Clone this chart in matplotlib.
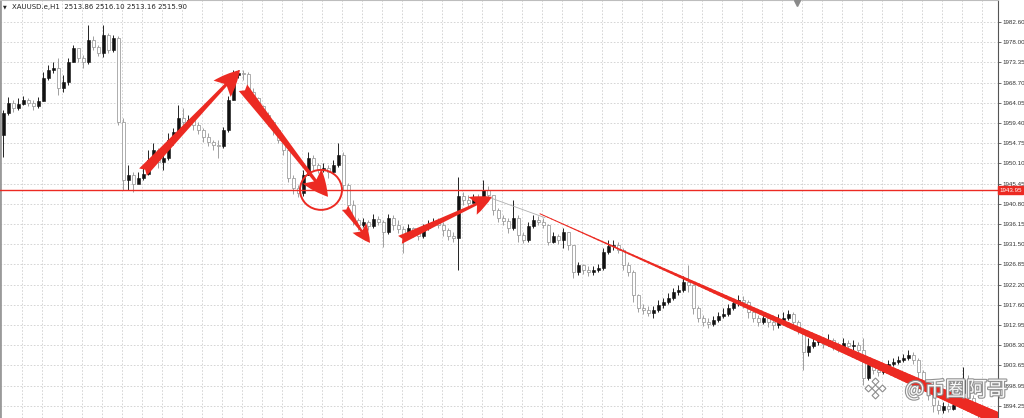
import numpy as np
import matplotlib
matplotlib.use("Agg")
import matplotlib.pyplot as plt
from matplotlib.patches import Ellipse, FancyArrowPatch
from matplotlib.collections import LineCollection
from matplotlib.lines import Line2D
import matplotlib.patheffects as pe

plt.rcParams["font.family"] = ["DejaVu Sans"]

# -----------------------------
# data (XAUUSD H1)
# -----------------------------
first_open = 1956.7
closes = [
    1961.7, 1964.0, 1962.9, 1963.8, 1964.7, 1964.0, 1963.3, 1964.5, 1969.8, 1971.6,
    1972.1, 1967.5, 1968.8, 1973.4, 1976.7, 1974.4, 1973.4, 1978.5, 1976.9, 1975.5,
    1979.6, 1976.2, 1979.0, 1959.6, 1946.3, 1947.5, 1945.4, 1946.8, 1947.7, 1950.9,
    1953.2, 1950.4, 1951.4, 1955.5, 1957.3, 1960.6, 1959.6, 1960.1, 1959.0, 1957.8,
    1956.2, 1955.0, 1954.4, 1954.1, 1957.8, 1964.7, 1970.5, 1970.9, 1970.7, 1966.5,
    1965.2, 1963.3, 1961.3, 1959.6, 1957.8, 1955.5, 1953.2, 1946.8, 1944.5, 1943.3,
    1947.5, 1951.4, 1949.8, 1948.6, 1949.1, 1948.1, 1949.8, 1952.1, 1945.2, 1940.6,
    1937.1, 1936.0, 1936.6, 1935.7, 1937.3, 1936.6, 1934.3, 1937.6, 1936.0, 1935.0,
    1933.9, 1935.3, 1934.1, 1933.4, 1935.3, 1936.2, 1936.6, 1936.0, 1934.8, 1933.4,
    1933.0, 1942.6, 1941.7, 1941.0, 1942.2, 1941.9, 1944.0, 1942.9, 1939.4, 1937.6,
    1936.9, 1935.3, 1937.6, 1933.7, 1932.5, 1935.7, 1937.1, 1936.6, 1936.0, 1932.0,
    1933.4, 1932.5, 1934.3, 1931.4, 1925.1, 1926.8, 1925.6, 1925.1, 1925.6, 1926.1,
    1929.7, 1931.1, 1931.4, 1930.2, 1926.8, 1925.1, 1919.9, 1916.9, 1916.4, 1915.7,
    1916.4, 1917.6, 1918.2, 1919.2, 1920.5, 1921.0, 1922.8, 1922.2, 1916.9, 1914.6,
    1913.6, 1913.2, 1914.1, 1915.0, 1915.5, 1916.9, 1918.0, 1918.7, 1918.2, 1915.9,
    1914.6, 1913.6, 1914.6, 1913.6, 1913.0, 1914.1, 1914.6, 1915.5, 1913.6, 1911.8,
    1906.7, 1908.1, 1909.0, 1909.5, 1908.6, 1909.5, 1908.4, 1907.7, 1908.8, 1908.1,
    1908.4, 1907.2, 1900.8, 1903.8, 1902.6, 1902.1, 1902.6, 1904.0, 1904.4, 1904.9,
    1905.4, 1906.1, 1904.9, 1902.1, 1899.2, 1896.9, 1894.6, 1893.4, 1894.3, 1893.6,
    1894.6, 1897.3, 1900.3, 1896.2, 1894.6, 1892.9,
]
highs = [
    1962.4, 1965.4, 1964.7, 1965.2, 1965.6, 1965.2, 1964.7, 1965.4, 1971.1, 1972.8,
    1973.4, 1974.4, 1970.5, 1974.4, 1977.4, 1976.2, 1975.1, 1981.9, 1979.4, 1977.4,
    1981.9, 1980.1, 1979.6, 1979.4, 1960.6, 1949.8, 1948.1, 1948.1, 1949.1, 1953.2,
    1954.8, 1953.7, 1952.7, 1957.1, 1958.3, 1963.6, 1962.9, 1961.3, 1960.8, 1959.6,
    1958.3, 1957.1, 1955.5, 1955.5, 1958.5, 1965.6, 1971.6, 1971.6, 1971.6, 1971.1,
    1967.5, 1965.4, 1963.6, 1961.9, 1960.1, 1957.8, 1955.5, 1953.2, 1947.5, 1945.2,
    1948.6, 1952.7, 1952.1, 1950.2, 1950.2, 1949.8, 1950.9, 1954.8, 1952.7, 1945.6,
    1941.7, 1937.6, 1937.6, 1937.1, 1938.5, 1938.0, 1937.1, 1938.5, 1938.3, 1937.1,
    1935.7, 1936.2, 1935.5, 1935.0, 1936.2, 1937.1, 1937.6, 1937.6, 1936.6, 1935.3,
    1934.3, 1947.0, 1943.5, 1942.9, 1943.1, 1943.1, 1946.3, 1944.9, 1942.9, 1939.9,
    1938.3, 1937.6, 1941.7, 1938.3, 1934.3, 1936.6, 1938.3, 1938.0, 1937.6, 1936.2,
    1934.3, 1933.9, 1935.3, 1934.3, 1931.4, 1927.4, 1927.0, 1926.5, 1926.5, 1927.0,
    1930.7, 1932.5, 1932.5, 1932.0, 1930.7, 1927.4, 1925.6, 1920.1, 1917.8, 1917.3,
    1917.3, 1918.7, 1919.2, 1920.3, 1921.5, 1922.2, 1924.2, 1926.8, 1922.4, 1917.3,
    1915.3, 1914.6, 1915.0, 1915.9, 1916.9, 1917.8, 1918.7, 1919.9, 1919.6, 1918.7,
    1916.4, 1915.3, 1915.5, 1915.0, 1914.6, 1915.5, 1915.9, 1916.4, 1915.9, 1914.1,
    1912.3, 1910.0, 1910.4, 1910.4, 1910.0, 1910.9, 1910.0, 1909.0, 1910.0, 1909.5,
    1909.5, 1909.0, 1910.0, 1904.9, 1904.4, 1903.5, 1903.8, 1904.9, 1905.4, 1905.8,
    1906.3, 1907.2, 1906.7, 1905.4, 1902.6, 1899.6, 1897.3, 1895.7, 1895.2, 1895.0,
    1895.7, 1898.5, 1903.3, 1901.5, 1896.9, 1894.8,
]
lows = [
    1951.6, 1961.3, 1961.9, 1962.4, 1963.6, 1963.3, 1962.4, 1962.9, 1964.5, 1969.3,
    1970.9, 1965.9, 1966.5, 1968.2, 1973.4, 1973.4, 1972.1, 1973.0, 1976.2, 1974.8,
    1974.6, 1975.5, 1975.7, 1959.0, 1944.0, 1944.0, 1943.5, 1945.6, 1946.3, 1947.5,
    1950.4, 1949.1, 1948.6, 1950.9, 1954.4, 1956.7, 1958.5, 1958.5, 1957.8, 1956.9,
    1955.0, 1954.1, 1953.2, 1951.4, 1953.7, 1957.3, 1964.7, 1969.8, 1969.3, 1965.4,
    1964.2, 1962.4, 1960.6, 1958.7, 1956.7, 1954.8, 1952.1, 1945.8, 1943.1, 1942.4,
    1942.6, 1947.5, 1948.6, 1947.9, 1948.1, 1946.8, 1947.7, 1949.3, 1944.0, 1938.9,
    1936.0, 1934.8, 1935.5, 1934.8, 1935.3, 1936.0, 1930.9, 1933.9, 1934.8, 1934.1,
    1929.5, 1933.4, 1933.2, 1932.5, 1933.0, 1934.8, 1935.7, 1935.3, 1933.4, 1932.5,
    1932.0, 1925.6, 1940.6, 1940.1, 1941.2, 1941.2, 1941.7, 1942.2, 1938.3, 1936.6,
    1936.0, 1934.1, 1934.8, 1932.0, 1931.8, 1932.0, 1935.3, 1936.0, 1935.3, 1931.4,
    1931.8, 1931.6, 1930.7, 1930.2, 1923.8, 1924.5, 1924.7, 1924.2, 1924.5, 1925.1,
    1925.6, 1929.3, 1930.2, 1929.5, 1925.6, 1924.2, 1918.2, 1915.9, 1915.5, 1915.0,
    1914.6, 1915.9, 1916.9, 1917.8, 1918.7, 1919.9, 1920.5, 1920.5, 1915.5, 1913.6,
    1912.7, 1912.3, 1912.7, 1913.6, 1914.6, 1915.0, 1916.4, 1917.3, 1916.9, 1914.6,
    1913.6, 1912.7, 1913.2, 1912.5, 1911.8, 1912.3, 1913.6, 1914.1, 1912.3, 1910.9,
    1902.6, 1905.8, 1907.7, 1908.4, 1907.7, 1908.1, 1907.2, 1906.7, 1907.2, 1907.2,
    1907.2, 1906.1, 1899.2, 1900.3, 1901.7, 1901.2, 1901.7, 1903.1, 1903.5, 1904.0,
    1904.4, 1904.9, 1904.0, 1900.8, 1898.0, 1895.7, 1892.9, 1892.5, 1892.7, 1892.9,
    1893.4, 1894.6, 1896.9, 1895.2, 1893.6, 1891.6,
]

tick_labels = [
    "1982.60", "1978.00", "1973.35", "1968.70", "1964.05", "1959.40", "1954.75",
    "1950.10", "1945.45", "1940.80", "1936.15", "1931.50", "1926.85", "1922.20",
    "1917.60", "1912.95", "1908.30", "1903.65", "1898.95", "1894.25",
]
current_price = 1943.95
title_text = "XAUUSD.e,H1  2513.86 2516.10 2513.16 2515.90"
watermark = "@币圈阿哥"

# 화살표: (시작 (봉, 가격), 끝 (봉, 가격), 크기)
arrows = [
    ((28.0, 1948.1), (47.4, 1971.6), 17),
    ((48.0, 1967.5), (65.0, 1942.4), 17),
    ((68.4, 1939.9), (73.4, 1931.8), 12),
    ((79.4, 1932.5), (97.8, 1942.4), 14),
]
circle_center = (63.6, 1944.0)
trend_grey = ((97.4, 1942.2), (108.4, 1937.6))
trend_red = ((107.4, 1938.5), (199.6, 1891.0))

RED = "#ec2a22"
LABEL_FONT = ["Liberation Sans", "DejaVu Sans"]

# -----------------------------
# figure
# -----------------------------
fig = plt.figure(figsize=(10.24, 4.18), dpi=100)
fig.patch.set_facecolor("white")
ax = fig.add_axes([0.0, 0.0, 998 / 1024, 1.0])

opens = [first_open] + closes[:-1]
x = np.arange(len(closes))
o = np.array(opens)
c = np.array(closes)
h = np.array(highs)
l = np.array(lows)
up = c >= o

# wicks
ax.vlines(x[up], l[up], h[up], color="#222222", lw=0.7, zorder=2)
ax.vlines(x[~up], l[~up], h[~up], color="#a0a0a0", lw=0.7, zorder=2)

# bodies
body_lo = np.minimum(o, c)
body_h = np.maximum(np.abs(c - o), 0.15)
ax.bar(x[up], body_h[up], bottom=body_lo[up], width=0.6,
       color="#111111", edgecolor="#111111", lw=0.4, zorder=3)
ax.bar(x[~up], body_h[~up], bottom=body_lo[~up], width=0.6,
       color="white", edgecolor="#a0a0a0", lw=0.6, zorder=3)

# current price line
ax.axhline(current_price, color=RED, lw=1.0, zorder=4)
ax.text(1.001, current_price, f"{current_price:.2f}", transform=ax.get_yaxis_transform(),
        ha="left", va="center", fontsize=4.5, color="white", clip_on=False,
        family=LABEL_FONT,
        bbox=dict(boxstyle="square,pad=0.2", fc=RED, ec=RED), zorder=8)

# circle
ax.add_patch(Ellipse(circle_center, width=8.4, height=9.2, fill=False,
                     edgecolor=RED, lw=1.4, zorder=5))

# arrows
for start, end, ms in arrows:
    ax.add_patch(FancyArrowPatch(
        start, end,
        arrowstyle="fancy,head_length=1.1,head_width=1.0,tail_width=0.45",
        mutation_scale=ms, color=RED, lw=0, shrinkA=0, shrinkB=0, zorder=6))

# trend lines
ax.plot([trend_grey[0][0], trend_grey[1][0]], [trend_grey[0][1], trend_grey[1][1]],
        color="#b0b0b0", lw=0.6, zorder=4)
t = np.linspace(0, 1, 120)
tx = trend_red[0][0] + (trend_red[1][0] - trend_red[0][0]) * t
ty = trend_red[0][1] + (trend_red[1][1] - trend_red[0][1]) * t
pts = np.column_stack([tx, ty]).reshape(-1, 1, 2)
segs = np.concatenate([pts[:-1], pts[1:]], axis=1)
widths = (1 + 12 * t[:-1] ** 1.6) * 0.72
ax.add_collection(LineCollection(segs, linewidths=widths, colors=RED,
                                 capstyle="round", zorder=6))

# -----------------------------
# axes style
# -----------------------------
ax.set_xlim(-0.6, 199.0)
ax.set_ylim(1891.5, 1987.7)

ticks = [float(s) for s in tick_labels]
ax.yaxis.tick_right()
ax.set_yticks(ticks)
ax.set_yticklabels(tick_labels, family=LABEL_FONT)
ax.tick_params(axis="y", labelsize=4.5, colors="#333333", length=2, width=0.5, pad=1)
ax.set_xticks(np.arange(3.7, 199, 4))
ax.tick_params(axis="x", length=0, labelbottom=False)

ax.grid(True, color="#cfcfcf", linestyle=(0, (2, 2)), lw=0.6)
ax.set_axisbelow(True)

ax.spines["bottom"].set_visible(False)
ax.spines["left"].set_color("#9a9a9a")
ax.spines["left"].set_linewidth(2)
ax.spines["top"].set_color("#bdbdbd")
ax.spines["top"].set_linewidth(0.8)
ax.spines["right"].set_color("#555555")
ax.spines["right"].set_linewidth(0.8)

# shift marker at the top
ax.plot([797 / 998], [0.992], marker="v", markersize=4, color="#8a8a8a",
        transform=ax.transAxes, clip_on=False, zorder=7)

# header
fig.text(0.003, 1 - 7 / 418, "▼", fontsize=3.5, color="#222222", va="center")
fig.text(0.012, 1 - 7 / 418, title_text, fontsize=5, color="#222222", va="center")

# watermark
fig.text(0.934, 1 - 390 / 418, watermark, ha="center", va="center", fontsize=15,
         color="white", family=["Noto Sans CJK SC", "DejaVu Sans"], alpha=0.95,
         path_effects=[pe.withStroke(linewidth=1.6, foreground="#8c8c8c")], zorder=10)
lx, ly = 875 / 1024, 1 - 388 / 418
dx, dy = 7 / 1024, 7 / 418
for mx, my in [(lx, ly), (lx - dx, ly), (lx + dx, ly), (lx, ly + dy), (lx, ly - dy)]:
    fig.add_artist(Line2D([mx], [my], marker="D", markersize=3.5, color="white",
                          markeredgecolor="#8c8c8c", markeredgewidth=0.8,
                          transform=fig.transFigure, zorder=10))

plt.savefig("out.png", dpi=100)
plt.close()
